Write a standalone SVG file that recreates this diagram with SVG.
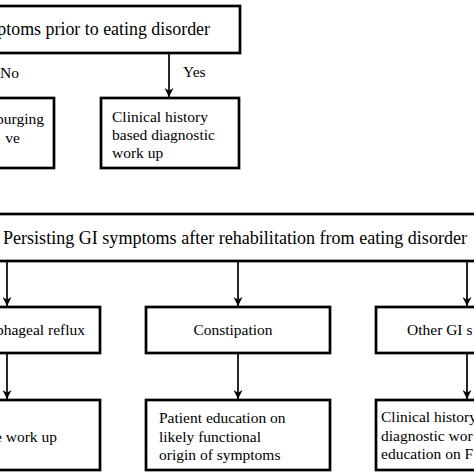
<svg xmlns="http://www.w3.org/2000/svg" width="474" height="474" viewBox="0 0 474 474">
<style>
.box{fill:#fff;stroke:#000;stroke-width:2.7}
.t{font-family:"Liberation Serif","Times New Roman","DejaVu Serif",serif;font-size:15.5px;fill:#000}
.big{font-size:17.9px}
.c line{stroke:#000;stroke-width:1.7}
</style>
<defs>
<marker id="ah" viewBox="0 0 10 10" refX="10" refY="5" markerWidth="9" markerHeight="9" markerUnits="userSpaceOnUse" orient="auto">
<path d="M0,0 L10,5 L0,10 L3,5 z" fill="#000"/>
</marker>
</defs>
<rect width="474" height="474" fill="#fff"/>
<g id="connectors" class="c">
<line x1="169" y1="53" x2="169" y2="97" marker-end="url(#ah)"/>
<line x1="7" y1="261" x2="7" y2="306" marker-end="url(#ah)"/>
<line x1="238" y1="261" x2="238" y2="306" marker-end="url(#ah)"/>
<line x1="467" y1="261" x2="467" y2="306" marker-end="url(#ah)"/>
<line x1="7" y1="353" x2="7" y2="399" marker-end="url(#ah)"/>
<line x1="238" y1="353" x2="238" y2="399" marker-end="url(#ah)"/>
<line x1="467" y1="353" x2="467" y2="399" marker-end="url(#ah)"/>
<text class="t" x="0" y="78">No</text>
<text class="t" x="183" y="77">Yes</text>
</g>
<g id="n-top">
<rect class="box" x="-10" y="6" width="250" height="47"/>
<text class="t big" x="210" y="35" text-anchor="end">ptoms prior to eating disorder</text>
</g>
<g id="n-purging">
<rect class="box" x="-10" y="98" width="64" height="70"/>
<text class="t" x="44" y="124" text-anchor="end">purging</text>
<text class="t" x="20" y="143" text-anchor="end">ve</text>
</g>
<g id="n-history">
<rect class="box" x="101" y="98" width="138" height="70"/>
<text class="t" x="112" y="122">Clinical history</text>
<text class="t" x="112" y="140">based diagnostic</text>
<text class="t" x="112" y="158">work up</text>
</g>
<g id="n-persisting">
<rect class="box" x="-10" y="214" width="494" height="47"/>
<text class="t big" x="3" y="244" textLength="464" lengthAdjust="spacingAndGlyphs">Persisting GI symptoms after rehabilitation from eating disorder</text>
</g>
<g id="n-reflux">
<rect class="box" x="-10" y="307" width="110" height="46"/>
<text class="t" x="85" y="335" text-anchor="end">phageal reflux</text>
</g>
<g id="n-constipation">
<rect class="box" x="146" y="307" width="184" height="46"/>
<text class="t" x="233" y="335" text-anchor="middle">Constipation</text>
</g>
<g id="n-other">
<rect class="box" x="376" y="307" width="108" height="46"/>
<text class="t" x="407" y="335">Other GI s</text>
</g>
<g id="n-workup">
<rect class="box" x="-10" y="400" width="110" height="70"/>
<text class="t" x="57" y="442" text-anchor="end">e work up</text>
</g>
<g id="n-education">
<rect class="box" x="146" y="400" width="184" height="70"/>
<text class="t" x="159" y="423">Patient education on</text>
<text class="t" x="159" y="442">likely functional</text>
<text class="t" x="159" y="460">origin of symptoms</text>
</g>
<g id="n-other-workup">
<rect class="box" x="376" y="400" width="108" height="70"/>
<text class="t" x="381" y="422">Clinical history</text>
<text class="t" x="381" y="441">diagnostic wor</text>
<text class="t" x="381" y="459">education on F</text>
</g>
</svg>
